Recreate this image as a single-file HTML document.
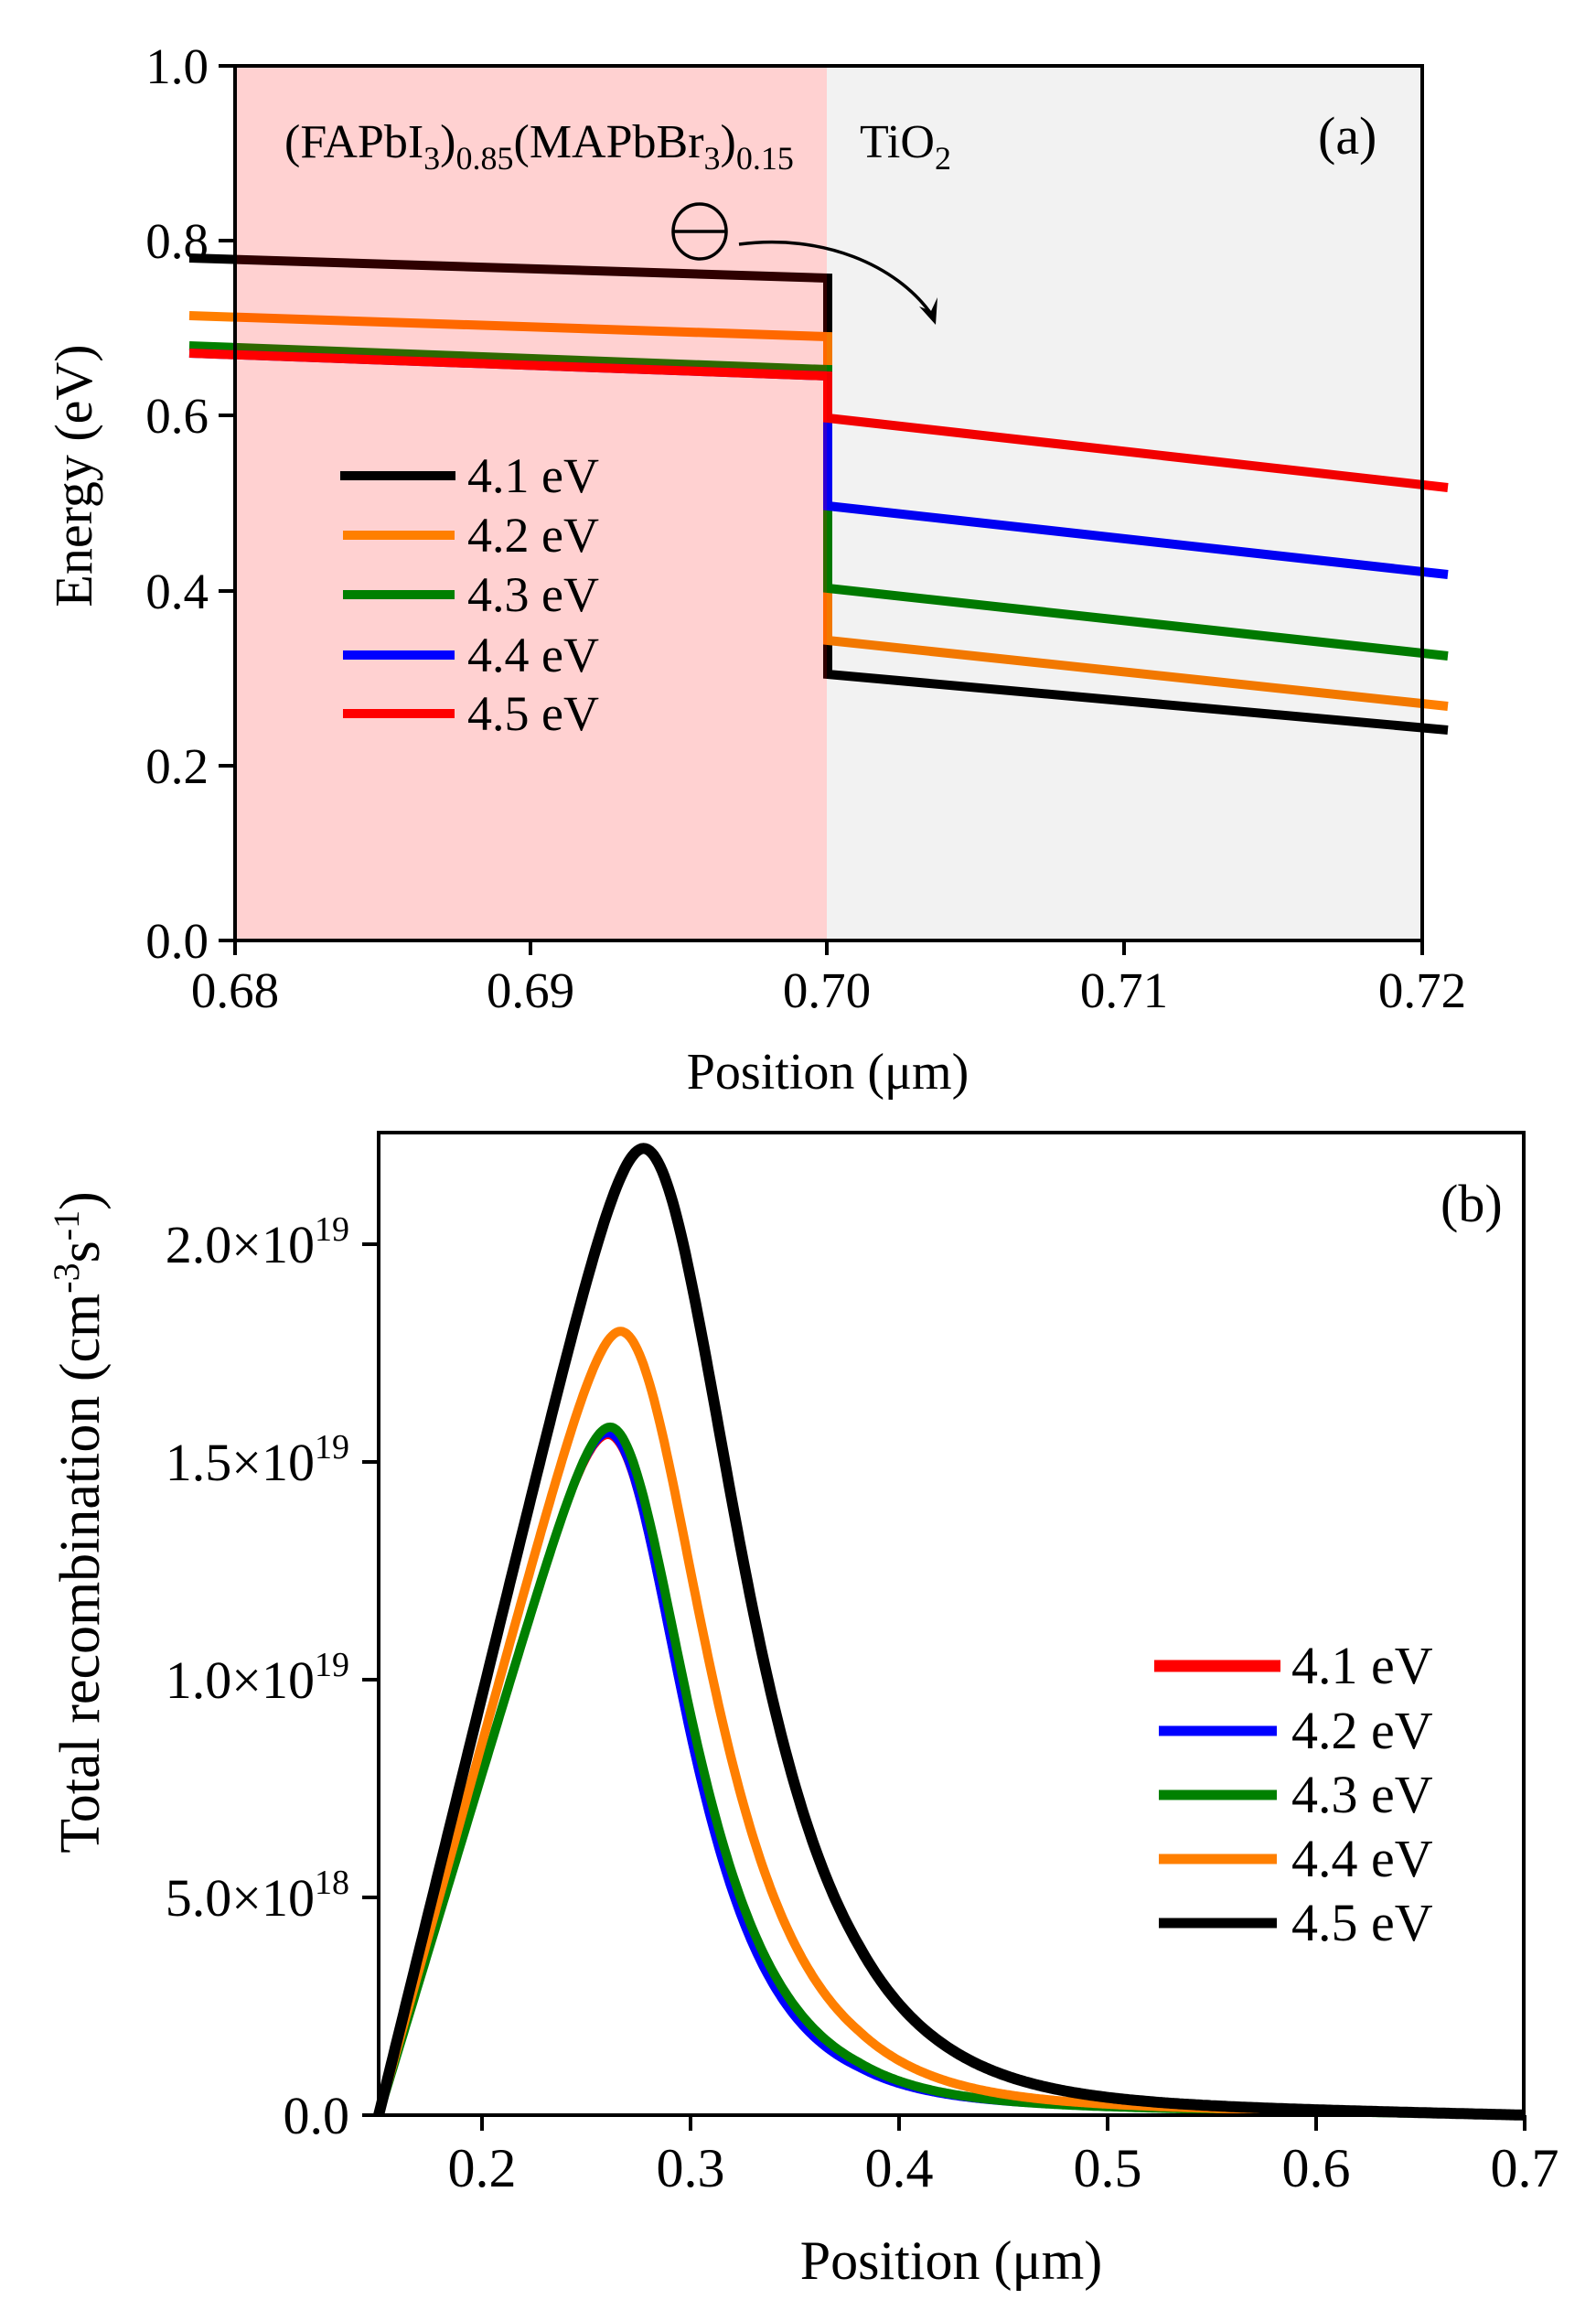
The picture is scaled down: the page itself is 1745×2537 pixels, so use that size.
<!DOCTYPE html>
<html><head><meta charset="utf-8"><style>
html,body{margin:0;padding:0;background:#fff}
svg{display:block}
text{font-family:"Liberation Serif",serif;fill:#000}
</style></head><body>
<svg id="s" width="1745" height="2537" viewBox="0 0 1745 2537" xmlns="http://www.w3.org/2000/svg">
<rect width="1745" height="2537" fill="#fff"/>
<!-- Panel a lines -->
<g fill="none" stroke-width="10" stroke-linejoin="miter">
<polyline stroke="#000" points="207,282 905,304 905,737 1583,798"/>
<polyline stroke="#ff7f00" points="207,345 905,368 905,700 1583,772"/>
<polyline stroke="#008000" points="207,378 905,404 905,643 1583,717"/>
<polyline stroke="#0000ff" points="207,386 905,411 905,553 1583,628"/>
<polyline stroke="#ff0000" points="207,386 905,411 905,457 1583,533"/>
</g>
<rect x="257" y="72" width="647" height="956" fill="rgba(255,0,0,0.18)"/>
<rect x="904" y="72" width="651" height="956" fill="rgba(0,0,0,0.05)"/>
<!-- axes a -->
<g stroke="#000" stroke-width="4" fill="none">
<rect x="257" y="72" width="1298" height="956"/>
<path d="M239,72h18M239,263h18M239,454h18M239,646h18M239,837h18M239,1028h18"/>
<path d="M257,1028v16M580,1028v16M904,1028v16M1229,1028v16M1555,1028v16"/>
</g>
<g font-size="55" text-anchor="end">
<text x="228" y="91">1.0</text><text x="228" y="282">0.8</text><text x="228" y="473">0.6</text>
<text x="228" y="665">0.4</text><text x="228" y="856">0.2</text><text x="228" y="1047">0.0</text>
</g>
<g font-size="55" text-anchor="middle">
<text x="257" y="1101">0.68</text><text x="580" y="1101">0.69</text><text x="904" y="1101">0.70</text>
<text x="1229" y="1101">0.71</text><text x="1555" y="1101">0.72</text>
</g>
<text x="905" y="1190" font-size="56" text-anchor="middle">Position (μm)</text>
<text transform="translate(100,520) rotate(-90)" font-size="58" text-anchor="middle">Energy (eV)</text>
<text x="311" y="172" font-size="52">(FAPbI<tspan font-size="36" dy="13">3</tspan><tspan dy="-13">)</tspan><tspan font-size="36" dy="13">0.85</tspan><tspan dy="-13">(MAPbBr</tspan><tspan font-size="36" dy="13">3</tspan><tspan dy="-13">)</tspan><tspan font-size="36" dy="13">0.15</tspan></text>
<text x="940" y="172" font-size="52">TiO<tspan font-size="36" dy="13">2</tspan></text>
<text x="1441" y="168" font-size="58">(a)</text>
<ellipse cx="765" cy="253" rx="29" ry="30" fill="none" stroke="#000" stroke-width="3.5"/>
<line x1="737" y1="253" x2="794" y2="253" stroke="#000" stroke-width="3.5"/>
<path d="M808,267 C900,255 980,290 1018,343" fill="none" stroke="#000" stroke-width="3.5"/>
<path d="M1023,355 L1005,335 L1018,340 L1025,325 Z" fill="#000"/>
<g stroke-width="10">
<line x1="372" y1="520" x2="498" y2="520" stroke="#000"/>
<line x1="375" y1="585" x2="497" y2="585" stroke="#ff7f00"/>
<line x1="375" y1="650" x2="497" y2="650" stroke="#008000"/>
<line x1="375" y1="716" x2="497" y2="716" stroke="#0000ff"/>
<line x1="375" y1="780" x2="497" y2="780" stroke="#ff0000"/>
</g>
<g font-size="54">
<text x="511" y="538">4.1 eV</text><text x="511" y="603">4.2 eV</text><text x="511" y="668">4.3 eV</text>
<text x="511" y="734">4.4 eV</text><text x="511" y="798">4.5 eV</text>
</g>

<!-- Panel b -->
<g id="curves" fill="none" stroke-linejoin="round"></g>
<g stroke="#000" stroke-width="4" fill="none">
<rect x="414" y="1238" width="1252" height="1074"/>
<path d="M396,2312h18M396,2074h18M396,1836h18M396,1598h18M396,1360h18"/>
<path d="M527,2312v17M755,2312v17M983,2312v17M1211,2312v17M1439,2312v17M1667,2312v17"/>
</g>
<g font-size="58" text-anchor="end">
<text x="382" y="2332">0.0</text>
<text x="382" y="2094">5.0×10<tspan font-size="38" dy="-24">18</tspan></text>
<text x="382" y="1856">1.0×10<tspan font-size="38" dy="-24">19</tspan></text>
<text x="382" y="1618">1.5×10<tspan font-size="38" dy="-24">19</tspan></text>
<text x="382" y="1380">2.0×10<tspan font-size="38" dy="-24">19</tspan></text>
</g>
<g font-size="60" text-anchor="middle">
<text x="527" y="2390">0.2</text><text x="755" y="2390">0.3</text><text x="983" y="2390">0.4</text>
<text x="1211" y="2390">0.5</text><text x="1439" y="2390">0.6</text><text x="1667" y="2390">0.7</text>
</g>
<text x="1040" y="2491" font-size="60" text-anchor="middle">Position (μm)</text>
<text transform="translate(108,1664) rotate(-90)" font-size="62" text-anchor="middle">Total recombination (cm<tspan font-size="40" dy="-22">-3</tspan><tspan dy="22">s</tspan><tspan font-size="40" dy="-22">-1</tspan><tspan dy="22">)</tspan></text>
<text x="1575" y="1335" font-size="58">(b)</text>
<g stroke-width="11">
<line x1="1262" y1="1821" x2="1400" y2="1821" stroke="#ff0000" stroke-width="13"/>
<line x1="1267" y1="1892" x2="1396" y2="1892" stroke="#0000ff"/>
<line x1="1267" y1="1962" x2="1396" y2="1962" stroke="#008000"/>
<line x1="1267" y1="2032" x2="1396" y2="2032" stroke="#ff7f00"/>
<line x1="1267" y1="2102" x2="1396" y2="2102" stroke="#000"/>
</g>
<g font-size="58">
<text x="1412" y="1840">4.1 eV</text><text x="1412" y="1911">4.2 eV</text><text x="1412" y="1981">4.3 eV</text>
<text x="1412" y="2051">4.4 eV</text><text x="1412" y="2121">4.5 eV</text>
</g>
</svg>
<script>
(function(){
var X=function(v){return 414+(v-0.15)*2280;}, Y=function(r){return 2312-476*r;};
var sets=[
 {c:"#ff0000",w:7,A:1.56,p:0.260,s:0.033,t:0.025},
 {c:"#0000ff",w:8,A:1.565,p:0.260,s:0.033,t:0.025},
 {c:"#008000",w:10,A:1.58,p:0.261,s:0.034,t:0.025},
 {c:"#ff7f00",w:10,A:1.80,p:0.266,s:0.037,t:0.028},
 {c:"#000000",w:12,A:2.22,p:0.277,s:0.041,t:0.032}];
var g=document.getElementById("curves"),ns="http://www.w3.org/2000/svg";
sets.forEach(function(o){
 var d="";
 for(var i=0;i<=550;i++){
  var x=0.15+i*0.001,f;
  if(x<=o.p){var t=(x-0.15)/(o.p-0.15); f=o.A*(1.111*t-0.111*Math.pow(t,10));}
  else{f=o.A/Math.cosh((x-o.p)/o.s);}
  if(x>0.3){f+=o.t*Math.max(0,(0.7-x)/0.3)*Math.min(1,(x-0.3)/0.08);}
  d+=(i?"L":"M")+X(x).toFixed(1)+","+Y(f).toFixed(1);
 }
 var p=document.createElementNS(ns,"path");
 p.setAttribute("d",d);p.setAttribute("stroke",o.c);p.setAttribute("stroke-width",o.w);
 g.appendChild(p);
});
})();
</script>
</body></html>
